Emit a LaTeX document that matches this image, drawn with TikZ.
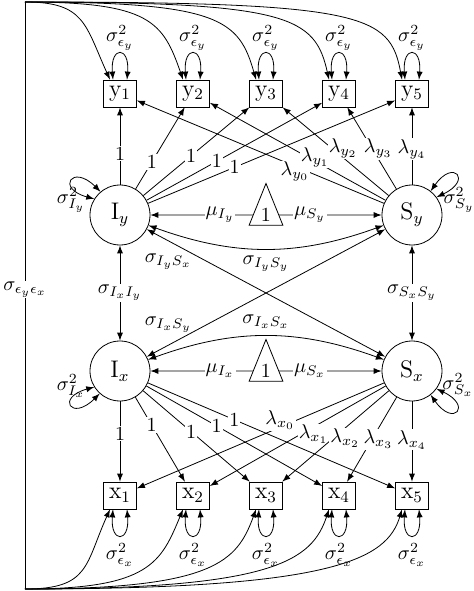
\documentclass[tikz,border=0pt]{standalone}
\usepackage{amsmath,amssymb}
\usepackage{tikz}
\usetikzlibrary{shapes.geometric,arrows,positioning}

\begin{document}
\begin{tikzpicture}[x=0.5pt,y=0.5pt,>=latex,
  obs/.style={draw,minimum width=16.5pt,minimum height=13.5pt,inner sep=1pt,font=\large},
  lat/.style={draw,circle,minimum size=30pt,inner sep=0pt,font=\large},
  tri/.style={draw,isosceles triangle,isosceles triangle apex angle=44,shape border rotate=90,inner sep=1.8pt},
  lbl/.style={fill=white,inner sep=0.5pt}]
\useasboundingbox (0,0) rectangle (474,591);
% Latent intercepts and slopes
\node[lat] (Iy) at (120,376) {$\mathrm{I}_y$};
\node[lat] (Sy) at (412,376) {$\mathrm{S}_y$};
\node[lat] (Ix) at (120,220) {$\mathrm{I}_x$};
\node[lat] (Sx) at (412,220) {$\mathrm{S}_x$};
% Constants
\node[tri] (ty) at (266,376) {1};
\node[tri] (tx) at (266,220) {1};
% Observed variables and residual variances
\foreach \i/\x in {1/120,2/193,3/266,4/339,5/412} {
  \node[obs] (y\i) at (\x,497.5) {$\mathrm{y}_\i$};
  \node[obs] (x\i) at (\x,95.5) {$\mathrm{x}_\i$};
  \node (ey\i) at (\x,553) {$\sigma^2_{\epsilon_y}$};
  \node (ex\i) at (\x,36) {$\sigma^2_{\epsilon_x}$};
  \draw[<->] ([xshift=-3.5pt]y\i.north) .. controls +(-3,34) and +(3,34) .. ([xshift=3.5pt]y\i.north);
  \draw[<->] ([xshift=-3.5pt]x\i.south) .. controls +(-3,-34) and +(3,-34) .. ([xshift=3.5pt]x\i.south);
}
% Residual covariance along the left side
\coordinate (tl) at (25,589);
\coordinate (bl) at (25,2);
\draw (tl) -- node[lbl,pos=0.49] {$\sigma_{\epsilon_y\epsilon_x}$} (bl);
\foreach \i/\px/\qx/\qy in {1/60/-25/55,2/125/-20/58,3/195/-17/60,4/265/-14/63,5/340/-12/65}
  \draw[->] (tl) .. controls +(\px,0) and +(\qx,\qy) .. ([xshift=-5pt]y\i.north);
\foreach \i/\px/\qx/\qy in {1/65/-25/-55,2/125/-22/-53,3/190/-19/-52,4/250/-17/-51,5/310/-15/-50}
  \draw[->] (bl) .. controls +(\px,0) and +(\qx,\qy) .. ([xshift=-5pt]x\i.south);
% Factor loadings
\foreach \i/\k/\p/\q/\st/\r/\sb in {1/0/0.4/0.36/-2.75/0.42/3.5,2/1/0.33/0.4/2/0.41/-3.5,3/2/0.45/0.43/4.75/0.41/-5,4/3/0.4/0.37/5/0.37/-5.5,5/4/0.35/0.46/0/0.48/0} {
  \draw[->] (Iy) -- node[lbl,pos=\p] {1} (y\i);
  \draw[->] (Sy) -- node[lbl,pos=\q,yshift=\st pt] {$\lambda_{y_\k}$} (y\i);
  \draw[->] (Ix) -- node[lbl,pos=\p] {1} (x\i);
  \draw[->] (Sx) -- node[lbl,pos=\r,yshift=\sb pt] {$\lambda_{x_\k}$} (x\i);
}
% Means
\draw[->] (ty) -- node[lbl,pos=0.32] {$\mu_{I_y}$} (Iy);
\draw[->] (ty) -- node[lbl,pos=0.3] {$\mu_{S_y}$} (Sy);
\draw[->] (tx) -- node[lbl,pos=0.32] {$\mu_{I_x}$} (Ix);
\draw[->] (tx) -- node[lbl,pos=0.3] {$\mu_{S_x}$} (Sx);
% Variances of the latent factors
\draw[<->] (Iy.130) .. controls +(135:40) and +(165:40) .. (Iy.148);
\draw[<->] (Sy.52) .. controls +(55:40) and +(25:40) .. (Sy.36);
\draw[<->] (Ix.228) .. controls +(225:40) and +(195:40) .. (Ix.212);
\draw[<->] (Sx.-52) .. controls +(-55:40) and +(-25:40) .. (Sx.-36);
\node (vIy) at (71,391) {$\sigma^2_{I_y}$};
\node (vSy) at (459,391) {$\sigma^2_{S_y}$};
\node (vIx) at (71,205) {$\sigma^2_{I_x}$};
\node (vSx) at (458,206) {$\sigma^2_{S_x}$};
% Covariances
\draw[<->] (Iy) -- node[lbl] {$\sigma_{I_xI_y}$} (Ix);
\draw[<->] (Sy) -- node[lbl] {$\sigma_{S_xS_y}$} (Sx);
\draw[<->] (Iy.-20) to[out=-20,in=200] node[below] {$\sigma_{I_yS_y}$} (Sy.200);
\draw[<->] (Ix.22) to[out=20,in=160] node[above] {$\sigma_{I_xS_x}$} (Sx.158);
\draw[<->] (Iy) -- node[pos=0.09,below=3pt] {$\sigma_{I_yS_x}$} (Sx);
\draw[<->] (Ix) -- node[pos=0.09,above=3pt] {$\sigma_{I_xS_y}$} (Sy);
\end{tikzpicture}
\end{document}
